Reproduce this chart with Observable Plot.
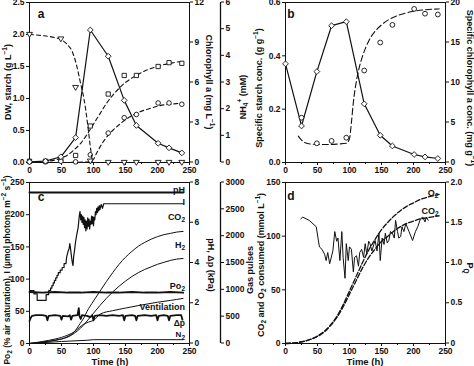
<!DOCTYPE html>
<html><head><meta charset="utf-8">
<script src="https://cdn.jsdelivr.net/npm/d3@7"></script>
<script src="https://cdn.jsdelivr.net/npm/@observablehq/plot@0.6"></script>
<style>
body{margin:0;background:#fff;}
#wrap{position:relative;width:474px;height:366px;overflow:hidden;font-family:"Liberation Sans",Arial,sans-serif;color:#111;}
.p{position:absolute;}
.p svg{overflow:visible;max-width:none;}
.lab{position:absolute;white-space:nowrap;font-size:9px;font-weight:bold;line-height:1;}
.lab sub,.lab sup{font-size:6.5px;line-height:0;}
</style></head><body><div id="wrap"></div>
<script>
// ---------- Panel a ----------
const tA = [0, 25, 49, 72, 95, 123, 148, 167, 201, 218, 238];
const squaresA = [0.02, 0.02, 0.05, 0.11, 0.57, 1.07, 1.36, 1.36, 1.50, 1.56, 1.55];      // g L-1
const circlesA = [0.01, 0.01, 0.02, 0.01, 0.12, 0.46, 0.70, 0.75, 0.93, 0.93, 0.91];      // g L-1
const diamondsA = [0.05, 0.1, 0.43, 1.87, 9.94, 7.97, 4.66, 2.78, 1.44, 1.1, 0.72];       // mg L-1 (chl)
const triT = [0, 49, 72, 95, 123, 148, 167, 201, 218, 238];
const trianglesA = [4.8, 4.63, 2.81, 0.05, 0, 0, 0, 0, 0, 0];                            // mM
const fitT = [0,20,40,50,60,70,80,90,100,110,120,130,140,150,160,170,180,190,200,210,220,230,240];
const squareFit = [0,0.01,0.04,0.07,0.12,0.2,0.3,0.44,0.6,0.76,0.92,1.05,1.16,1.25,1.32,1.38,1.43,1.47,1.5,1.53,1.55,1.57,1.58];
const circleFitT = [0,50,95,100,105,110,115,120,130,140,150,160,170,180,190,200,210,220,230,240];
const circleFit = [0,0,0.01,0.05,0.15,0.24,0.32,0.39,0.5,0.59,0.67,0.73,0.78,0.82,0.85,0.88,0.9,0.91,0.92,0.93];
const nh4FitT = [0,20,40,50,60,66,73,80,85,88,92,95,97,99,120,240];
const nh4Fit = [4.8,4.76,4.68,4.6,4.4,4.2,3.7,2.95,2.4,1.95,1.2,0.6,0.25,0.0,0.0,0.0];

// ---------- Panel b ----------
const tB = [0, 25, 49, 72, 95, 123, 148, 167, 201, 218, 238];
const specStarchB = [0.37, 0.137, 0.341, 0.513, 0.528, 0.22, 0.102, 0.062, 0.03, 0.021, 0.015];
const chlT = [25, 49, 72, 95, 123, 148, 167, 201, 218, 238];
const specChlB = [5.6, 2.4, 2.7, 3.1, 11.5, 15.0, 17.2, 19.2, 18.6, 18.5];
const chlFitT = [20,25,30,40,60,80,95,100,103,106,110,115,120,125,130,140,150,160,170,180,200,220,240];
const chlFit = [3.3,2.8,2.5,2.3,2.25,2.3,2.4,3.0,5.0,7.5,9.8,11.8,13.2,14.3,15.2,16.4,17.2,17.8,18.2,18.5,18.9,19.1,19.2];

// ---------- Panel c ----------
const phT = [0, 240], phV = [7.5, 7.5];
const iT = [0,7,7,12,12,26,26,30,30,33,33,35,35,37,37,39,39,41,41,43,43,45,45,48,48,51,51,54,54,57,58,60,62,63,64,65,66,67,68,69,70,71,72,74,76,77,78,79,80,81,82,83,84,85,86,87,88,89,90,91,92,93,94,95,96,97,98,99,100,101,102,103,104,105,106,107,108,109,110,112,114,116,118,240];
const iV = [82,82,77,77,67,67,76,76,82,82,86,86,90,90,94,94,98,98,102,102,106,106,110,110,114,114,118,118,124,124,134,142,148,155,148,140,132,125,121,135,142,150,158,170,180,190,200,205,192,200,188,198,185,196,180,192,175,190,178,195,182,193,178,190,185,198,186,197,183,196,192,205,200,210,203,212,206,214,208,216,210,217,217,217];
const po2T = [0,20,40,60,80,100,120,140,160,180,200,220,240];
const po2V = [80,79,80,79,79,80,79,79,80,79,79,80,79];
const ventT = [0,2,4,10,20,26,28,30,40,48,50,52,60,63,65,67,75,77,78,80,82,90,95,98,100,102,110,120,130,140,146,148,150,160,165,167,169,180,190,198,200,202,210,216,218,220,230,237,239];
const ventV = [35,40,43,44,44,43,36,43,44,43,37,43,42,44,37,43,44,55,43,38,44,43,41,44,36,43,44,43,44,43,44,36,43,44,43,36,43,44,43,44,36,43,44,43,36,43,44,44,37];
const co2T = [0,20,40,50,60,70,77,85,90,100,110,120,130,140,150,160,170,180,190,200,210,220,230,240];
const co2Gas = [0,24,60,84,132,216,336,480,600,792,972,1152,1320,1476,1608,1716,1812,1884,1944,1992,2028,2052,2076,2088];
const h2T = [0,20,40,50,60,70,80,84,90,100,110,120,130,140,150,160,170,180,190,200,210,220,230,240];
const h2Gas = [0,24,60,84,120,192,288,336,420,564,708,840,960,1068,1164,1248,1320,1380,1428,1476,1512,1548,1572,1584];
const dpT = [0,20,40,60,70,78,85,92,100,111,130,150,171,200,220,240];
const dpV = [0,0.1,0.22,0.42,0.58,0.8,0.96,1.06,1.15,1.47,1.63,1.76,1.89,2.05,2.14,2.24];
const n2T = [0,50,90,100,240];
const n2V = [0,0.1,0.16,0.19,0.19];

// ---------- Panel d ----------
const dT = [0,20,40,50,60,70,80,90,100,110,120,130,140,150,160,170,180,190,200,210,220,230,240];
const o2Cons = [0,1,4,7,11,17,25,36,49,62,75,87,97,106,113,119,124,128,131,134,136,137.5,139];
const co2Cons = [0,1,4,6.5,10.5,16.5,24,34,46,58,70,80,88,95,100,105,109,112,114,116,117,118,119];
const pqT = [24,27,37,48,53,57,61,63.5,66,69,74,77,80,82,85,88,90,93,95,98,100,103,106,108,111,114,116,119,122,124.5,127,130,132,135,138,140,143,146,148,151,154,156,159,161.5,164,167,170,172,175,177,180,182,185,188,193,198.6,203,206.6,211,214.5,218,220,223];
const pqV = [1.55,1.57,1.53,1.45,1.2,1.17,1.11,1.03,1.13,0.99,1.15,1.39,1.27,1.31,1.03,1.39,1.07,0.81,1.24,1.03,1.2,1.17,0.89,1.07,1.09,0.96,1.13,1.17,1.07,1.24,1.11,1.27,1.24,1.15,1.23,1.28,1.15,1.37,1.03,1.31,1.23,1.37,1.25,1.28,1.39,1.37,1.31,1.53,1.39,1.31,1.33,1.45,1.39,1.49,1.39,1.28,1.39,1.45,1.55,1.57,1.51,1.57,1.53];

// tick labels
const xTicks = [0,50,100,150,200,250], xMinor = [25,75,125,175,225];
const aLeftTicks = [0,0.5,1,1.5,2,2.5], aChlTicks = [0,3,6,9,12], aNh4Ticks = [0,1,2,3,4,5,6];
const bLeftTicks = [0,0.2,0.4,0.6], bRightTicks = [0,5,10,15,20];
const cLeftTicks = [0,50,100,150,200,250], cRightTicks = [0,2,4,6,8], cGasTicks = [0,500,1000,1500,2000,2500,3000];
const dLeftTicks = [0,50,100,150], dRightTicks = [0,0.5,1,1.5,2];

// ---------- helpers ----------
const wrap = document.getElementById("wrap");
const pts = (t, v) => t.map((x, i) => ({t: x, v: v[i]})).filter(d => d.v != null);
const triDown = {draw(ctx, size) { const h = Math.sqrt(size) * 0.95; ctx.moveTo(-h*0.62, -h*0.45); ctx.lineTo(h*0.62, -h*0.45); ctx.lineTo(0, h*0.6); ctx.closePath(); }};
const STYLE = {fontFamily: "Liberation Sans, Arial, sans-serif", fontSize: "8.5px", fontWeight: "bold", background: "transparent", overflow: "visible", color: "#111"};
const GEOM = {
  a: {left: 0, top: 0, width: 240, height: 180, marginLeft: 29, marginRight: 51, marginTop: 2, marginBottom: 18},
  b: {left: 237, top: 0, width: 237, height: 180, marginLeft: 48, marginRight: 29, marginTop: 2, marginBottom: 18},
  c: {left: 0, top: 180, width: 240, height: 186, marginLeft: 29, marginRight: 51, marginTop: 2, marginBottom: 23},
  d: {left: 237, top: 180, width: 237, height: 186, marginLeft: 48, marginRight: 29, marginTop: 2, marginBottom: 23}
};
function place(g, yDomain, marks, primary) {
  const {left, top, ...geom} = g;
  const svg = Plot.plot({
    ...geom,
    style: STYLE,
    x: {domain: [0, 250], axis: primary ? undefined : null},
    y: {domain: yDomain},
    marks: primary ? [
      Plot.frame({stroke: "#111", strokeWidth: 1}),
      Plot.axisX({ticks: xTicks, tickSize: 3, tickPadding: 1.5, label: null, tickFormat: d => String(d)}),
      Plot.axisX({ticks: xMinor, tickSize: 2, label: null, tickFormat: () => ""}),
      ...marks
    ] : marks
  });
  const div = document.createElement("div");
  div.className = "p"; div.style.left = left + "px"; div.style.top = top + "px";
  div.appendChild(svg); wrap.appendChild(div);
}
const axL = (ticks, fmt) => Plot.axisY({anchor: "left", ticks, tickFormat: fmt, tickSize: 3, tickPadding: 2, label: null});
const axR = (ticks, fmt, dx = 0) => Plot.axisY({anchor: "right", ticks, tickFormat: fmt, tickSize: 3, tickPadding: 2, label: null, dx, dy: -0.5});
const f1 = d => d.toFixed(1), f0 = d => String(d);
const line = (t, v, o = {}) => Plot.line(pts(t, v), {x: "t", y: "v", stroke: "#111", strokeWidth: 1.1, curve: "linear", ...o});
const dots = (t, v, symbol, o = {}) => Plot.dot(pts(t, v), {x: "t", y: "v", symbol, r: 2.6, fill: "white", stroke: "#111", strokeWidth: 0.9, ...o});

// Panel a
place(GEOM.a, [0, 2.5], [
  axL(aLeftTicks, f1),
  line(fitT, squareFit, {strokeDasharray: "4,3", curve: "monotone-x"}),
  line(circleFitT, circleFit, {strokeDasharray: "4,3", curve: "monotone-x"}),
  dots(tA, squaresA, "square", {r: 2.4}),
  dots(tA, circlesA, "circle", {r: 2.3})
], true);
place(GEOM.a, [0, 12], [
  axR(aChlTicks, f0),
  line(tA, diamondsA, {strokeWidth: 1.2}),
  dots(tA, diamondsA, "diamond2", {r: 2.6})
]);
place(GEOM.a, [0, 6], [
  axR(aNh4Ticks, f0, 31),
  Plot.ruleX([250], {dx: 31, stroke: "#111", strokeWidth: 1.3}),
  line(nh4FitT, nh4Fit, {strokeDasharray: "4,3", curve: "monotone-x"}),
  dots(triT, trianglesA, triDown, {r: 2.8})
]);

// Panel b
place(GEOM.b, [0, 0.6], [
  axL(bLeftTicks, f1),
  line(tB, specStarchB, {strokeWidth: 1.2}),
  dots(tB, specStarchB, "diamond2", {r: 2.6})
], true);
place(GEOM.b, [0, 20], [
  axR(bRightTicks, f0),
  line(chlFitT, chlFit, {strokeDasharray: "6,3", curve: "monotone-x"}),
  dots(chlT, specChlB, "circle", {r: 2.4})
]);

// Panel c
place(GEOM.c, [0, 250], [
  axL(cLeftTicks, f0),
  line(iT, iV, {strokeWidth: 1.2}),
  line(po2T, po2V, {strokeWidth: 2}),
  line(ventT, ventV, {strokeWidth: 1.8})
], true);
place(GEOM.c, [0, 8], [
  axR(cRightTicks, f0),
  line(phT, phV, {strokeWidth: 2}),
  line(dpT, dpV, {strokeWidth: 1, curve: "monotone-x"}),
  line(n2T, n2V, {strokeWidth: 1})
]);
place(GEOM.c, [0, 3000], [
  axR(cGasTicks, f0, 31),
  Plot.ruleX([250], {dx: 31, stroke: "#111", strokeWidth: 1.3}),
  line(co2T, co2Gas, {strokeWidth: 1, curve: "monotone-x"}),
  line(h2T, h2Gas, {strokeWidth: 1, curve: "monotone-x"})
]);

// Panel d
place(GEOM.d, [0, 150], [
  axL(dLeftTicks, f0),
  line(dT, o2Cons, {strokeDasharray: "5,2", strokeWidth: 1.3, curve: "monotone-x"}),
  line(dT, co2Cons, {strokeDasharray: "5,2", strokeWidth: 1.3, curve: "monotone-x"})
], true);
place(GEOM.d, [0, 2], [
  axR(dRightTicks, d => d === 0 ? "0" : d.toFixed(1)),
  line(pqT, pqV, {strokeWidth: 1})
]);

// ---------- text ----------
function label(html, x, y, {rot = 0, size = 9, anchor = "middle", weight = "bold"} = {}) {
  const el = document.createElement("div");
  el.className = "lab";
  el.innerHTML = html;
  el.style.left = x + "px"; el.style.top = y + "px";
  el.style.fontSize = size + "px"; el.style.fontWeight = weight;
  const tx = anchor === "end" ? "-100%" : anchor === "start" ? "0" : "-50%";
  el.style.transform = `translate(${tx},-50%) rotate(${rot}deg)`;
  if (rot) { el.style.transform = `translate(-50%,-50%) rotate(${rot}deg)`; }
  wrap.appendChild(el);
}
label("a", 41, 14, {size: 12});
label("b", 291, 14, {size: 12});
label("c", 41, 197, {size: 12});
label("d", 291, 196, {size: 12});
label("DW, starch (g L<sup>−1</sup>)", 8, 82, {rot: -90});
label("Chlorophyll a (mg L<sup>−1</sup>)", 208, 82, {rot: 90});
label("NH<sub>4</sub><sup>+</sup> (mM)", 243, 97, {rot: -90});
label("Specific starch conc. (g g<sup>−1</sup>)", 259, 88, {rot: -90});
label("Specific chlorophyll a conc. (mg g<sup>−1</sup>)", 469, 88, {rot: 90});
label("Po<sub>2</sub> (% air saturation), I (µmol photons m<sup>−2</sup> s<sup>−1</sup>)", 7, 270, {rot: -90, size: 8.5});
label("pH, Δp (kPa)", 210, 265, {rot: 90});
label("Gas pulses", 250, 270, {rot: -90});
label("CO<sub>2</sub> and O<sub>2</sub> consumed (mmol L<sup>−1</sup>)", 261, 265, {rot: -90});
label("P<sub>Q</sub>", 469, 268, {rot: 90});
label("Time (h)", 110, 361.5, {size: 9.5});
label("Time (h)", 365, 361.5, {size: 9.5});
label("pH", 185, 190, {anchor: "end"});
label("I", 185, 202, {anchor: "end"});
label("CO<sub>2</sub>", 185, 217, {anchor: "end"});
label("H<sub>2</sub>", 185, 245, {anchor: "end"});
label("Po<sub>2</sub>", 185, 286, {anchor: "end"});
label("Ventilation", 185, 307, {anchor: "end"});
label("Δp", 185, 323, {anchor: "end", size: 8.5});
label("N<sub>2</sub>", 185, 335, {anchor: "end", size: 8});
label("O<sub>2</sub>", 433, 193);
label("CO<sub>2</sub>", 430, 211);
</script></body></html>
